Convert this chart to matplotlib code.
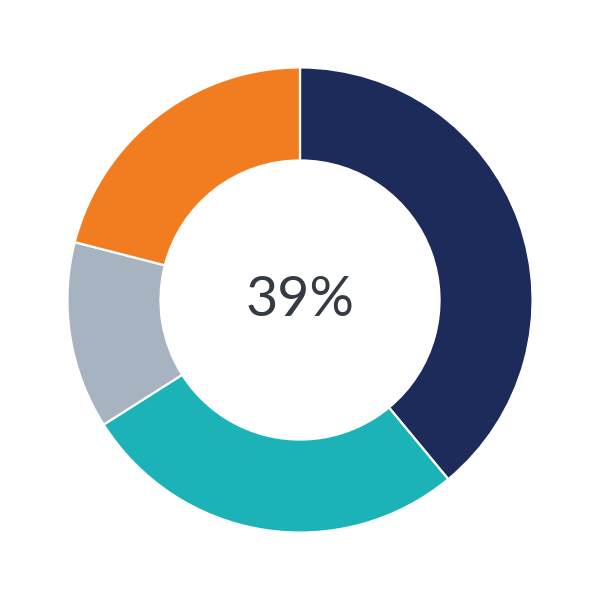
import matplotlib.pyplot as plt

labels = ['Navy', 'Teal', 'Gray', 'Orange']
values = [39, 27, 13, 21]
colors = ['#1c2b5a', '#1bb3b7', '#a8b3c2', '#f27d21']
center_label = '39%'

fig = plt.figure(figsize=(6, 6), dpi=100)
ax = fig.add_axes([0, 0, 1, 1])
ax.pie(values, colors=colors, startangle=90, counterclock=False,
       radius=1, wedgeprops=dict(width=0.4, edgecolor='white', linewidth=1.6))
ax.text(0, 0, center_label, ha='center', va='center', fontsize=40,
        family=['Lato', 'DejaVu Sans'], fontweight='normal', color='#353b44')
ax.set_xlim(-1.29, 1.29)
ax.set_ylim(-1.29, 1.29)
ax.set_aspect('equal')
ax.axis('off')
fig.savefig('out.png', dpi=100, facecolor='white')
